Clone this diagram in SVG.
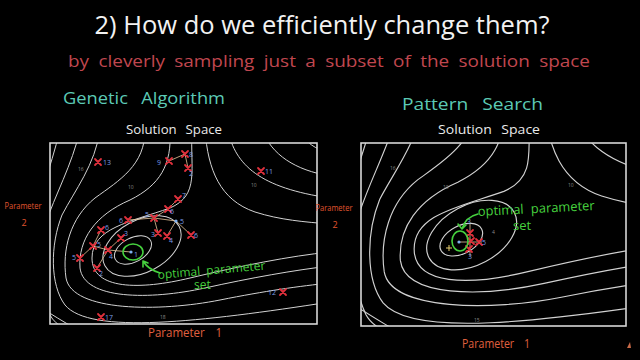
<svg xmlns="http://www.w3.org/2000/svg" xmlns:xlink="http://www.w3.org/1999/xlink" width="640" height="360" viewBox="0 0 640 360">
<style>
.t{font-family:"Open Sans","Liberation Sans",sans-serif}
.ct{fill:none;stroke:#d2d2d2;stroke-width:1}
.box{fill:none;stroke:#d6d6d6;stroke-width:1.6}
.lab{font-family:"Open Sans","Liberation Sans",sans-serif;fill:#7b9fe6;font-size:7px}
.cl{font-family:"Open Sans","Liberation Sans",sans-serif;fill:#8a8a8a;font-size:5px}
.x{stroke:#e0303c;stroke-width:1.8;stroke-linecap:round}
.ln{stroke:#e9c79c;stroke-width:0.8;fill:none}
.gr{fill:none;stroke:#46d13e;stroke-width:1.6;stroke-linecap:round}
.par{fill:#e0552f;font-size:9px}
</style>
<defs>
<path id="X" d="M-3,-3L3,3M3,-3L-3,3" class="x"/>
<clipPath id="cL"><rect x="50" y="143" width="267" height="181"/></clipPath>
<clipPath id="cR"><rect x="361" y="143" width="265" height="183"/></clipPath>
<g id="contours">
<ellipse class="ct" cx="133" cy="250" rx="20" ry="12" transform="rotate(-28 133 250)"/>
<ellipse class="ct" cx="142" cy="246" rx="42" ry="26" transform="rotate(-28 142 246)"/>
<path class="ct" d="M192,130 C190,170 200,195 170,208 C130,222 92,228 92,258 C92,290 140,290 190,278 C240,266 290,256 330,252"/>
<path class="ct" d="M170,130 C172,165 160,185 130,200 C95,215 78,240 80,268 C84,300 150,300 205,288 C250,278 295,270 330,266"/>
<path class="ct" d="M145,130 C145,165 120,180 95,198 C70,218 62,250 66,278 C72,312 160,312 220,300 C265,291 300,286 330,283"/>
<path class="ct" d="M100,130 C95,165 75,190 62,215 C50,245 50,285 65,305 C90,335 200,322 330,302"/>
<path class="ct" d="M80,130 C72,165 55,195 45,225 C38,255 38,290 50,315 C62,338 110,342 150,345"/>
<path class="ct" d="M60,130 C50,170 38,200 30,230"/>
<path class="ct" d="M205,130 C208,170 220,200 255,212 C280,220 305,222 330,224"/>
<path class="ct" d="M228,130 C235,165 260,188 330,198"/>
<path class="ct" d="M262,130 C272,155 295,170 330,176"/>
<path class="ct" d="M300,130 C305,142 315,150 330,152"/>
<path class="ct" d="M30,300 C55,318 80,330 100,345"/>
</g>
</defs>
<rect width="640" height="360" fill="#000"/>

<text class="t" x="322" y="34" font-size="26" fill="#f2f2f2" text-anchor="middle" textLength="455" lengthAdjust="spacingAndGlyphs">2) How do we efficiently change them?</text>
<text class="t" x="329" y="67" font-size="17" fill="#c0474f" text-anchor="middle" textLength="522" lengthAdjust="spacingAndGlyphs" word-spacing="4">by cleverly sampling just a subset of the solution space</text>

<g id="genetic">
<text class="t" x="63" y="104" font-size="17" fill="#5ccab6" textLength="162" lengthAdjust="spacingAndGlyphs" word-spacing="8">Genetic Algorithm</text>
<text class="t" x="126" y="134" font-size="12" fill="#eaeaea" textLength="96" lengthAdjust="spacingAndGlyphs" word-spacing="5">Solution Space</text>
<g clip-path="url(#cL)"><use xlink:href="#contours"/></g>
<rect class="box" x="50" y="143" width="267" height="181"/>
<text class="cl" x="78" y="171">16</text>
<text class="cl" x="128" y="189">10</text>
<text class="cl" x="251" y="187">10</text>
<text class="cl" x="160" y="319">18</text>
<g>
<path class="ln" d="M169,161L185,154L188,168M128,220L154,218L168,209L178,199M154,218L176,221L191,235M176,221L167,236M154,218L158,233M101,230L93,246L80,258M93,246L108,250L121,238M108,250L97,268M108,250L131,252"/>
<use xlink:href="#X" x="98" y="162"/><use xlink:href="#X" x="169" y="161"/><use xlink:href="#X" x="185" y="154"/><use xlink:href="#X" x="188" y="168"/>
<use xlink:href="#X" x="261" y="171"/><use xlink:href="#X" x="178" y="199"/><use xlink:href="#X" x="168" y="209"/><use xlink:href="#X" x="154" y="218"/>
<use xlink:href="#X" x="128" y="220"/><use xlink:href="#X" x="191" y="235"/><use xlink:href="#X" x="158" y="233"/><use xlink:href="#X" x="167" y="236"/>
<use xlink:href="#X" x="121" y="238"/><use xlink:href="#X" x="101" y="230"/><use xlink:href="#X" x="93" y="246"/><use xlink:href="#X" x="108" y="250"/>
<use xlink:href="#X" x="80" y="258"/><use xlink:href="#X" x="97" y="268"/><use xlink:href="#X" x="283" y="292"/><use xlink:href="#X" x="101" y="317"/>
<circle cx="176" cy="221" r="1.6" fill="#7fb0ee"/>
<circle cx="131" cy="252" r="1.6" fill="#7fb0ee"/>
<text class="lab" x="103" y="165">13</text><text class="lab" x="157" y="165">9</text><text class="lab" x="189" y="157">8</text><text class="lab" x="189" y="176">2</text>
<text class="lab" x="265" y="174">11</text><text class="lab" x="182" y="198">7</text><text class="lab" x="170" y="214">6</text><text class="lab" x="145" y="217">5</text>
<text class="lab" x="119" y="223">6</text><text class="lab" x="180" y="224">5</text><text class="lab" x="194" y="238">6</text><text class="lab" x="151" y="237">3</text>
<text class="lab" x="169" y="243">4</text><text class="lab" x="124" y="236">3</text><text class="lab" x="105" y="230">6</text><text class="lab" x="97" y="247">5</text>
<text class="lab" x="109" y="259">4</text><text class="lab" x="72" y="260">5</text><text class="lab" x="99" y="276">2</text><text class="lab" x="134" y="257">1</text>
<text class="lab" x="268" y="295">12</text><text class="lab" x="105" y="320">17</text>
</g>
<ellipse class="gr" cx="133" cy="252" rx="10" ry="8"/>
<path class="gr" d="M160,273 C150,270 146,266 143,261 M143,261 L143,267 M143,261 L148,263"/>
<text class="t" x="158" y="279" font-size="12" fill="#46d13e" transform="rotate(-5 158 279)" textLength="108" lengthAdjust="spacingAndGlyphs" word-spacing="3">optimal parameter</text>
<text class="t" x="194" y="289" font-size="12" fill="#46d13e">set</text>
<text class="t par" x="23" y="209" text-anchor="middle" textLength="37" lengthAdjust="spacingAndGlyphs">Parameter</text>
<text class="t par" x="24" y="226" text-anchor="middle">2</text>
<text class="t" x="185" y="337" font-size="12" fill="#e0603f" text-anchor="middle" textLength="74" lengthAdjust="spacingAndGlyphs" word-spacing="8">Parameter 1</text>
</g>

<g id="pattern">
<text class="t" x="402" y="110" font-size="17" fill="#5ccab6" textLength="141" lengthAdjust="spacingAndGlyphs" word-spacing="8">Pattern Search</text>
<text class="t" x="438" y="134" font-size="12" fill="#eaeaea" textLength="102" lengthAdjust="spacingAndGlyphs" word-spacing="5">Solution Space</text>
<g clip-path="url(#cR)"><g transform="translate(459,242) scale(1.15) translate(-131,-252)"><use xlink:href="#contours"/></g></g>
<rect class="box" x="361" y="143" width="265" height="183"/>
<text class="cl" x="390" y="170">16</text>
<text class="cl" x="443" y="189">10</text>
<text class="cl" x="568" y="187">10</text>
<text class="cl" x="492" y="234">4</text>
<text class="cl" x="474" y="322">15</text>
<path class="ln" d="M470,224L470,256M459,242L482,242"/>
<use xlink:href="#X" x="470" y="233"/><use xlink:href="#X" x="471" y="241"/><use xlink:href="#X" x="479" y="242"/><use xlink:href="#X" x="469" y="249"/>
<circle cx="459" cy="242" r="1.6" fill="#7fb0ee"/>
<path d="M446,248H452M449,245V251" stroke="#e8d070" stroke-width="1"/>
<text class="lab" x="467" y="224">3</text><text class="lab" x="482" y="245">5</text><text class="lab" x="468" y="259">3</text>
<ellipse class="gr" cx="460" cy="241" rx="8" ry="10"/>
<path class="gr" d="M478,214 C469,216 464,222 462,229 M462,229 L458,224 M462,229 L466,225"/>
<text class="t" x="478" y="216" font-size="13" fill="#46d13e" transform="rotate(-3 478 216)" textLength="117" lengthAdjust="spacingAndGlyphs" word-spacing="4">optimal parameter</text>
<text class="t" x="513" y="230" font-size="13" fill="#46d13e">set</text>
<text class="t par" x="334" y="211" text-anchor="middle" textLength="37" lengthAdjust="spacingAndGlyphs">Parameter</text>
<text class="t par" x="335" y="228" text-anchor="middle">2</text>
<text class="t" x="496" y="348" font-size="12" fill="#e0603f" text-anchor="middle" textLength="68" lengthAdjust="spacingAndGlyphs" word-spacing="8">Parameter 1</text>
</g>
<path d="M627,348 L630,342 L631,348 Z" fill="#c86a48"/>
</svg>
